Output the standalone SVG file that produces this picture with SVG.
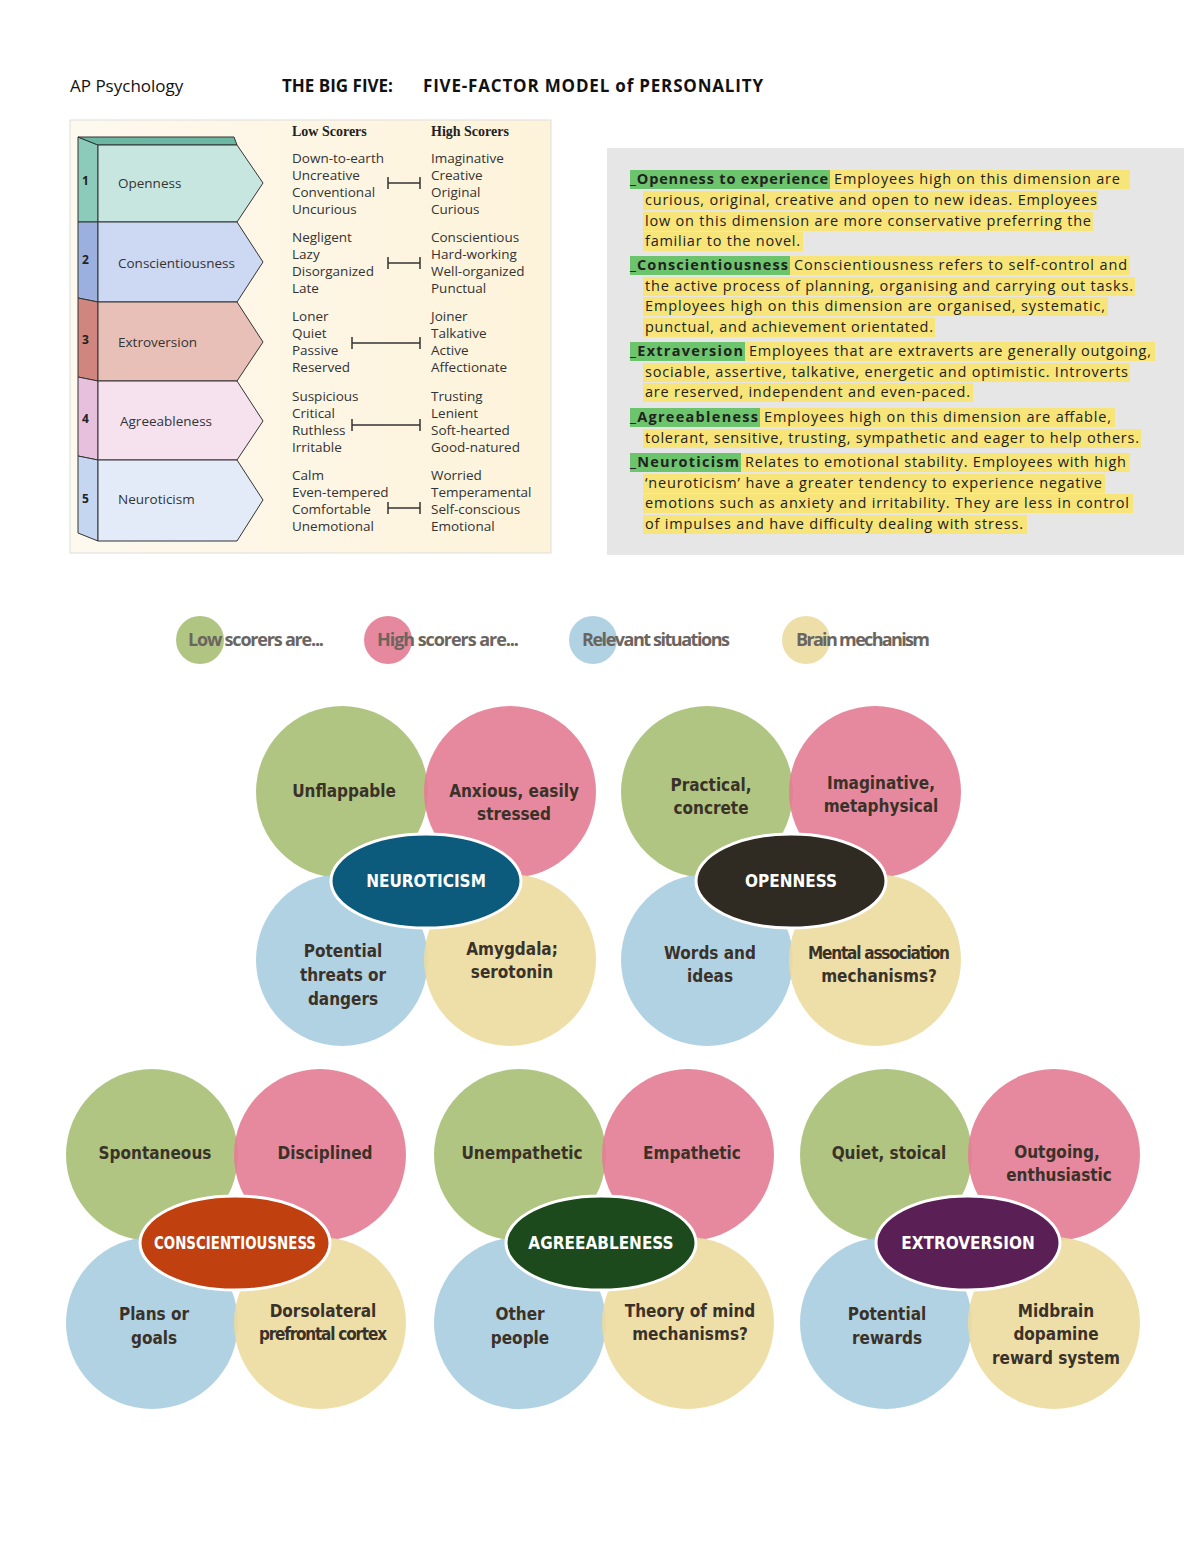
<svg xmlns="http://www.w3.org/2000/svg" width="1200" height="1553" viewBox="0 0 1200 1553">
<defs>
<linearGradient id="cream" x1="0" x2="1"><stop offset="0" stop-color="#fdf9ee"/><stop offset="1" stop-color="#fdf3da"/></linearGradient>
</defs>
<style>
text{font-family:"Open Sans","Liberation Sans",sans-serif}
.t{font-family:"Open Sans","Liberation Sans",sans-serif;font-size:13.5px;fill:#333}
.h{font-family:"Liberation Serif",serif;font-size:14px;font-weight:bold;fill:#222}
.p{font-size:14.5px;fill:#222}
.v{font-family:"DejaVu Sans Condensed","Liberation Sans",sans-serif;font-size:17px;fill:#3a3228;text-anchor:middle;font-weight:bold}
.e{font-family:"DejaVu Sans Condensed","Liberation Sans",sans-serif;font-size:17px;fill:#fff;text-anchor:middle;font-weight:bold}
.g{fill:#a9bf74;opacity:.9}.k{fill:#e47c93;opacity:.9}.b{fill:#a9cde0;opacity:.9}.y{fill:#ecdca0;opacity:.9}
.bar{stroke:#333;stroke-width:1.5;fill:none}
</style>
<rect width="1200" height="1553" fill="#fff"/>
<text x="70" y="92" font-size="17" fill="#111">AP Psychology</text>
<text y="92" font-size="17" font-weight="bold" fill="#111"><tspan x="282">THE BIG FIVE:</tspan><tspan x="423" textLength="340">FIVE-FACTOR MODEL of PERSONALITY</tspan></text>

<g id="table">
<rect x="70" y="120" width="481" height="433" fill="url(#cream)" stroke="#ddd"/>
<polygon points="78,137 98,145 98,222 78,222" fill="#8ccab9" stroke="#333"/>
<polygon points="78,137 234,137 237,145 98,145" fill="#6bb7a4" stroke="#333"/>
<polygon points="98,145 237,145 263,183 237,222 98,222" fill="#c8e6e0" stroke="#333"/>
<polygon points="78,222 98,222 98,302 78,298" fill="#9bb0de" stroke="#333"/>
<polygon points="98,222 237,222 263,262 237,302 98,302" fill="#cdd8f2" stroke="#333"/>
<polygon points="78,298 98,302 98,381 78,377" fill="#d0867e" stroke="#333"/>
<polygon points="98,302 237,302 263,342 237,381 98,381" fill="#e9c0b7" stroke="#333"/>
<polygon points="78,377 98,381 98,460 78,456" fill="#e6c0dc" stroke="#333"/>
<polygon points="98,381 237,381 263,421 237,460 98,460" fill="#f5e2ee" stroke="#333"/>
<polygon points="78,456 98,460 98,541 78,533" fill="#c5d6f0" stroke="#333"/>
<polygon points="98,460 237,460 263,500 237,541 98,541" fill="#e4ebf8" stroke="#333"/>
<g font-family="Liberation Sans" font-weight="bold" font-size="12" fill="#222">
<text x="82" y="185">1</text><text x="82" y="264">2</text><text x="82" y="344">3</text><text x="82" y="423">4</text><text x="82" y="503">5</text></g>
<text class="t" x="118" y="188">Openness</text>
<text class="t" x="118" y="268" font-size="12.5">Conscientiousness</text>
<text class="t" x="118" y="347">Extroversion</text>
<text class="t" x="120" y="426">Agreeableness</text>
<text class="t" x="118" y="504">Neuroticism</text>
<text class="h" x="292" y="136">Low Scorers</text><text class="h" x="431" y="136">High Scorers</text>
<g class="t">
<text x="292" y="163">Down-to-earth</text><text x="292" y="180">Uncreative</text><text x="292" y="197">Conventional</text><text x="292" y="214">Uncurious</text>
<text x="431" y="163">Imaginative</text><text x="431" y="180">Creative</text><text x="431" y="197">Original</text><text x="431" y="214">Curious</text>
<text x="292" y="242">Negligent</text><text x="292" y="259">Lazy</text><text x="292" y="276">Disorganized</text><text x="292" y="293">Late</text>
<text x="431" y="242">Conscientious</text><text x="431" y="259">Hard-working</text><text x="431" y="276">Well-organized</text><text x="431" y="293">Punctual</text>
<text x="292" y="321">Loner</text><text x="292" y="338">Quiet</text><text x="292" y="355">Passive</text><text x="292" y="372">Reserved</text>
<text x="431" y="321">Joiner</text><text x="431" y="338">Talkative</text><text x="431" y="355">Active</text><text x="431" y="372">Affectionate</text>
<text x="292" y="401">Suspicious</text><text x="292" y="418">Critical</text><text x="292" y="435">Ruthless</text><text x="292" y="452">Irritable</text>
<text x="431" y="401">Trusting</text><text x="431" y="418">Lenient</text><text x="431" y="435">Soft-hearted</text><text x="431" y="452">Good-natured</text>
<text x="292" y="480">Calm</text><text x="292" y="497">Even-tempered</text><text x="292" y="514">Comfortable</text><text x="292" y="531">Unemotional</text>
<text x="431" y="480">Worried</text><text x="431" y="497">Temperamental</text><text x="431" y="514">Self-conscious</text><text x="431" y="531">Emotional</text>
</g>
<path class="bar" d="M388,177v12M388,183h32M420,177v12M388,257v12M388,263h32M420,257v12M352,337v12M352,343h68M420,337v12M352,419v12M352,425h68M420,419v12M388,502v12M388,508h32M420,502v12"/>
</g>

<g id="descriptions">
<rect x="607" y="148" width="577" height="407" fill="#e6e6e6"/>
<g fill="#f7e57a">
<rect x="630" y="170" width="500" height="19"/><rect x="643" y="191" width="455" height="19"/><rect x="643" y="212" width="450" height="19"/><rect x="643" y="232" width="160" height="19"/>
<rect x="630" y="256" width="500" height="19"/><rect x="643" y="277" width="492" height="19"/><rect x="643" y="297" width="465" height="19"/><rect x="643" y="318" width="292" height="19"/>
<rect x="630" y="342" width="525" height="19"/><rect x="643" y="363" width="487" height="19"/><rect x="643" y="383" width="330" height="19"/>
<rect x="630" y="408" width="485" height="19"/><rect x="643" y="429" width="498" height="19"/>
<rect x="630" y="453" width="500" height="19"/><rect x="643" y="474" width="462" height="19"/><rect x="643" y="494" width="490" height="19"/><rect x="643" y="515" width="384" height="19"/>
</g>
<g fill="#6cc46c"><rect x="630" y="170" width="200" height="19"/><rect x="630" y="256" width="160" height="19"/><rect x="630" y="342" width="115" height="19"/><rect x="630" y="408" width="130" height="19"/><rect x="630" y="453" width="111" height="19"/></g>
<g class="p">
<text x="630" y="184"><tspan font-weight="bold" textLength="198">_Openness to experience</tspan><tspan x="834" textLength="286">Employees high on this dimension are</tspan></text>
<text x="645" y="205" textLength="452">curious, original, creative and open to new ideas. Employees</text>
<text x="645" y="226" textLength="446">low on this dimension are more conservative preferring the</text>
<text x="645" y="246" textLength="155">familiar to the novel.</text>
<text x="630" y="270"><tspan font-weight="bold" textLength="158">_Conscientiousness</tspan><tspan x="794" textLength="333">Conscientiousness refers to self-control and</tspan></text>
<text x="645" y="291" textLength="488">the active process of planning, organising and carrying out tasks.</text>
<text x="645" y="311" textLength="460">Employees high on this dimension are organised, systematic,</text>
<text x="645" y="332" textLength="288">punctual, and achievement orientated.</text>
<text x="630" y="356"><tspan font-weight="bold" textLength="113">_Extraversion</tspan><tspan x="749" textLength="402">Employees that are extraverts are generally outgoing,</tspan></text>
<text x="645" y="377" textLength="483">sociable, assertive, talkative, energetic and optimistic. Introverts</text>
<text x="645" y="397" textLength="325">are reserved, independent and even-paced.</text>
<text x="630" y="422"><tspan font-weight="bold" textLength="128">_Agreeableness</tspan><tspan x="764" textLength="347">Employees high on this dimension are affable,</tspan></text>
<text x="645" y="443" textLength="494">tolerant, sensitive, trusting, sympathetic and eager to help others.</text>
<text x="630" y="467"><tspan font-weight="bold" textLength="109">_Neuroticism</tspan><tspan x="745" textLength="381">Relates to emotional stability. Employees with high</tspan></text>
<text x="645" y="488" textLength="457">‘neuroticism’ have a greater tendency to experience negative</text>
<text x="645" y="508" textLength="484">emotions such as anxiety and irritability. They are less in control</text>
<text x="645" y="529" textLength="378">of impulses and have difficulty dealing with stress.</text>
</g>
</g>

<g id="legend">
<circle class="g" cx="200" cy="640" r="24"/><circle class="k" cx="388" cy="640" r="24"/><circle class="b" cx="593" cy="640" r="24"/><circle class="y" cx="806" cy="640" r="24"/>
<g font-family="DejaVu Sans Condensed,Liberation Sans,sans-serif" font-size="18" fill="#6b6560" font-weight="bold">
<text x="188" y="646" textLength="136">Low scorers are...</text><text x="377" y="646" textLength="142">High scorers are...</text><text x="582" y="646" textLength="148">Relevant situations</text><text x="796" y="646" textLength="134">Brain mechanism</text></g>
</g>

<g id="neuroticism">
<circle class="g" cx="342" cy="792" r="86"/><circle class="k" cx="510" cy="792" r="86"/><circle class="b" cx="342" cy="960" r="86"/><circle class="y" cx="510" cy="960" r="86"/>
<ellipse cx="426" cy="881" rx="95" ry="47" fill="#0c5a7c" stroke="#fff" stroke-width="3"/>
<text class="e" x="426" y="887">NEUROTICISM</text>
<text class="v" x="344" y="797">Unflappable</text><text class="v" x="514" y="797">Anxious, easily</text><text class="v" x="514" y="820">stressed</text>
<text class="v" x="343" y="957">Potential</text><text class="v" x="343" y="981">threats or</text><text class="v" x="343" y="1005">dangers</text>
<text class="v" x="512" y="955">Amygdala;</text><text class="v" x="512" y="978">serotonin</text>
</g>
<g id="openness">
<circle class="g" cx="707" cy="792" r="86"/><circle class="k" cx="875" cy="792" r="86"/><circle class="b" cx="707" cy="960" r="86"/><circle class="y" cx="875" cy="960" r="86"/>
<ellipse cx="791" cy="881" rx="95" ry="47" fill="#2f2a22" stroke="#fff" stroke-width="3"/>
<text class="e" x="791" y="887">OPENNESS</text>
<text class="v" x="711" y="791">Practical,</text><text class="v" x="711" y="814">concrete</text><text class="v" x="881" y="789">Imaginative,</text><text class="v" x="881" y="812">metaphysical</text>
<text class="v" x="710" y="959">Words and</text><text class="v" x="710" y="982">ideas</text><text class="v" x="879" y="959" textLength="142">Mental association</text><text class="v" x="879" y="982">mechanisms?</text>
</g>
<g id="conscientiousness">
<circle class="g" cx="152" cy="1155" r="86"/><circle class="k" cx="320" cy="1155" r="86"/><circle class="b" cx="152" cy="1323" r="86"/><circle class="y" cx="320" cy="1323" r="86"/>
<ellipse cx="235" cy="1243" rx="95" ry="47" fill="#c0400f" stroke="#fff" stroke-width="3"/>
<text class="e" x="235" y="1249" textLength="162" lengthAdjust="spacingAndGlyphs">CONSCIENTIOUSNESS</text>
<text class="v" x="155" y="1159">Spontaneous</text><text class="v" x="325" y="1159">Disciplined</text>
<text class="v" x="154" y="1320">Plans or</text><text class="v" x="154" y="1344">goals</text><text class="v" x="323" y="1317">Dorsolateral</text><text class="v" x="323" y="1340" textLength="128">prefrontal cortex</text>
</g>
<g id="agreeableness">
<circle class="g" cx="520" cy="1155" r="86"/><circle class="k" cx="688" cy="1155" r="86"/><circle class="b" cx="520" cy="1323" r="86"/><circle class="y" cx="688" cy="1323" r="86"/>
<ellipse cx="601" cy="1243" rx="95" ry="47" fill="#1c4a1c" stroke="#fff" stroke-width="3"/>
<text class="e" x="601" y="1249">AGREEABLENESS</text>
<text class="v" x="522" y="1159">Unempathetic</text><text class="v" x="692" y="1159">Empathetic</text>
<text class="v" x="520" y="1320">Other</text><text class="v" x="520" y="1344">people</text><text class="v" x="690" y="1317">Theory of mind</text><text class="v" x="690" y="1340">mechanisms?</text>
</g>
<g id="extroversion">
<circle class="g" cx="886" cy="1155" r="86"/><circle class="k" cx="1054" cy="1155" r="86"/><circle class="b" cx="886" cy="1323" r="86"/><circle class="y" cx="1054" cy="1323" r="86"/>
<ellipse cx="968" cy="1243" rx="92" ry="47" fill="#5a1f55" stroke="#fff" stroke-width="3"/>
<text class="e" x="968" y="1249">EXTROVERSION</text>
<text class="v" x="889" y="1159">Quiet, stoical</text><text class="v" x="1057" y="1158">Outgoing,</text><text class="v" x="1059" y="1181">enthusiastic</text>
<text class="v" x="887" y="1320">Potential</text><text class="v" x="887" y="1344">rewards</text>
<text class="v" x="1056" y="1317">Midbrain</text><text class="v" x="1056" y="1340">dopamine</text><text class="v" x="1056" y="1364">reward system</text>
</g>
</svg>
